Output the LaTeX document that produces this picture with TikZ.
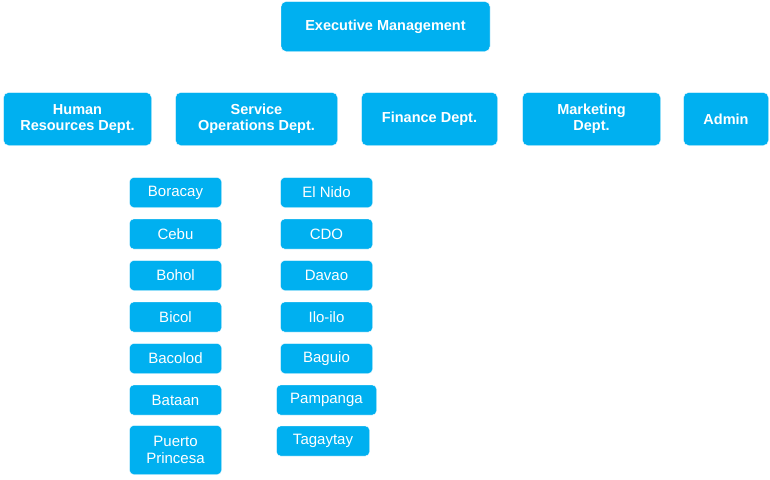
\documentclass[tikz,border=0pt]{standalone}
\usepackage{fontspec}
\setmainfont{Liberation Sans}
\definecolor{boxblue}{HTML}{00B0F0}
\tikzset{
  dept/.style={fill=boxblue,draw=white,rounded corners=5pt,text=white,font=\fontsize{14.5}{16}\selectfont\bfseries,align=center,inner sep=0pt},
  site/.style={fill=boxblue,draw=white,rounded corners=4pt,text=white,font=\fontsize{15}{17}\selectfont,align=center,inner sep=0pt}
}
\begin{document}
\begin{tikzpicture}[x=1pt,y=-1pt]
    \useasboundingbox (0,0) rectangle (770,479);
    \node[dept,minimum width=209pt,minimum height=50pt] (exec) at (385.5,26.5) {Executive Management};
    \node[dept,minimum width=148pt,minimum height=53pt] (hr) at (77.5,119) {Human\\Resources Dept.};
    \node[dept,minimum width=162pt,minimum height=53pt] (ops) at (256.5,119) {Service\\Operations Dept.};
    \node[dept,minimum width=136pt,minimum height=53pt] (fin) at (429.5,119) {Finance Dept.};
    \node[dept,minimum width=138pt,minimum height=53pt] (mkt) at (591.5,119) {Marketing\\Dept.};
    \node[dept,minimum width=85pt,minimum height=53pt] (adm) at (726,119) {Admin};
	\foreach \n/\t/\y in {bor/Boracay/192.5,ceb/Cebu/234,boh/Bohol/275.5,bic/Bicol/317,bac/Bacolod/358.5,bat/Bataan/400}
    {
    \node[site,minimum width=92pt,minimum height=30pt] (\n) at (175.5,\y) {\t};
    }
    \node[site,minimum width=92pt,minimum height=49pt] (pto) at (175.5,450) {Puerto\\Princesa};
	\foreach \n/\t/\y in {eln/El Nido/192.5,cdo/CDO/234,dav/Davao/275.5,ilo/Ilo-ilo/317,bag/Baguio/358.5}
    {
    \node[site,minimum width=92pt,minimum height=30pt] (\n) at (326.5,\y) {\t};
    }
    \node[site,minimum width=100pt,minimum height=30pt] (pam) at (326.5,400) {Pampanga};
    \node[site,minimum width=93pt,minimum height=30pt] (tag) at (323,441) {Tagaytay};
	\end{tikzpicture}
\end{document}
